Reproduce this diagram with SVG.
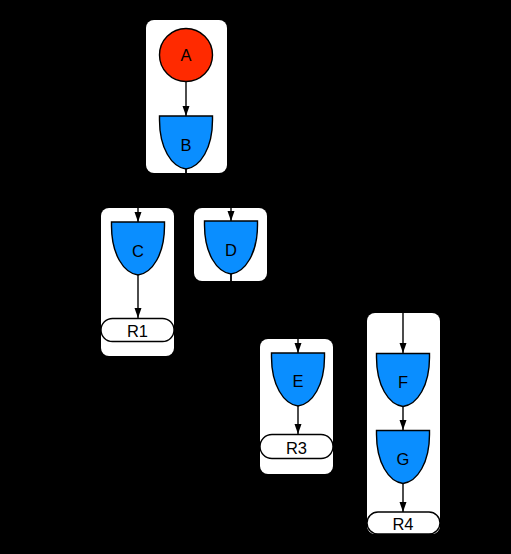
<svg xmlns="http://www.w3.org/2000/svg" width="511" height="554" viewBox="0 0 511 554">
<style>
.cl{fill:#ffffff;stroke:none}
.gate{fill:#0a8eff;stroke:#000;stroke-width:1.4}
.term{fill:#fff;stroke:#000;stroke-width:1.4}
.lbl{font-family:"Liberation Sans",Arial,sans-serif;font-size:16.5px;fill:#000;text-anchor:middle}
.edge{fill:none;stroke:#000;stroke-width:1.4}
</style>
<defs>
<marker id="ah" viewBox="0 0 10 10" refX="10" refY="5" markerWidth="10" markerHeight="10" markerUnits="userSpaceOnUse" orient="auto">
<path d="M0,1.5 L10,5 L0,8.5 Z" fill="#000"/>
</marker>
<path id="shield" d="M0,0 H53 V4 C53,32 41,51 26.5,53 C12,51 0,32 0,4 Z"/>
</defs>
<rect x="0" y="0" width="511" height="554" fill="#000"/>
<g id="clusters">
<rect class="cl" x="146" y="20" width="81" height="153" rx="8"/>
<rect class="cl" x="101" y="208" width="73" height="148" rx="8"/>
<rect class="cl" x="194" y="208" width="73" height="73" rx="8"/>
<rect class="cl" x="260" y="339" width="73" height="135" rx="8"/>
<rect class="cl" x="367" y="313" width="73" height="221" rx="8"/>
</g>
<g id="connectors">
<path class="edge" d="M186,82 V116" marker-end="url(#ah)"/>
<path class="edge" d="M186,169 V178 C186,195 138,190 138,205 V222" marker-end="url(#ah)"/>
<path class="edge" d="M186,169 V178 C186,195 231,190 231,205 V221" marker-end="url(#ah)"/>
<path class="edge" d="M138,274 V318" marker-end="url(#ah)"/>
<path class="edge" d="M231,273 V286 C231,310 298,310 298,332 V353" marker-end="url(#ah)"/>
<path class="edge" d="M231,273 V286 C231,300 403,290 403,306 V353" marker-end="url(#ah)"/>
<path class="edge" d="M298,405 V434" marker-end="url(#ah)"/>
<path class="edge" d="M403,406 V430" marker-end="url(#ah)"/>
<path class="edge" d="M403,483 V512" marker-end="url(#ah)"/>
</g>
<g id="A">
<circle cx="186" cy="55" r="26.5" fill="#ff2a00" stroke="#000" stroke-width="1.4"/>
<text class="lbl" x="186" y="61">A</text>
</g>
<g id="B">
<use href="#shield" class="gate" x="159.5" y="116"/>
<text class="lbl" x="186" y="150.5">B</text>
</g>
<g id="C">
<use href="#shield" class="gate" x="111.5" y="222"/>
<text class="lbl" x="138" y="257">C</text>
</g>
<g id="R1">
<rect class="term" x="101" y="318.5" width="73" height="23" rx="11.5"/>
<text class="lbl" x="137.5" y="337">R1</text>
</g>
<g id="D">
<use href="#shield" class="gate" x="204.5" y="221"/>
<text class="lbl" x="231" y="255.5">D</text>
</g>
<g id="E">
<use href="#shield" class="gate" x="271.5" y="353"/>
<text class="lbl" x="298" y="387">E</text>
</g>
<g id="R3">
<rect class="term" x="260" y="434.5" width="73" height="24" rx="12"/>
<text class="lbl" x="296.5" y="453.5">R3</text>
</g>
<g id="F">
<use href="#shield" class="gate" x="376.5" y="353.5"/>
<text class="lbl" x="403" y="388">F</text>
</g>
<g id="G">
<use href="#shield" class="gate" x="376.5" y="430.5"/>
<text class="lbl" x="403" y="464.5">G</text>
</g>
<g id="R4">
<rect class="term" x="367" y="512" width="73" height="22" rx="11"/>
<text class="lbl" x="403" y="530">R4</text>
</g>
</svg>
